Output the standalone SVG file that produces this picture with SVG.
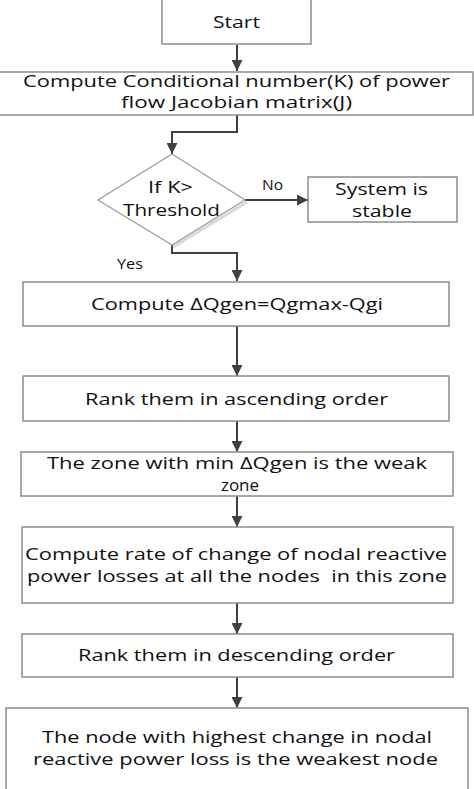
<svg xmlns="http://www.w3.org/2000/svg" width="474" height="789" viewBox="0 0 474 789">
<defs>
<marker id="ah" markerWidth="11" markerHeight="11" viewBox="0 0 10 10" refX="10" refY="5" orient="auto" markerUnits="userSpaceOnUse">
<path d="M0,0 L10,5 L0,10 Z" fill="#404040"/>
</marker>
<style>
.box{fill:#fff;stroke:#8c8c8c;stroke-width:1.5}
.dia{fill:#fff;stroke:#9a9a9a;stroke-width:1.2}
.shadow{fill:none;stroke:#d9d9d9;stroke-width:3}
.t{font-family:"Open Sans","Noto Sans",sans-serif;font-size:17px;fill:#111;text-anchor:middle}
.s{font-family:"Open Sans","Noto Sans",sans-serif;font-size:15px;fill:#111;text-anchor:middle}
.c{fill:none;stroke:#404040;stroke-width:2;marker-end:url(#ah)}
</style>
</defs>
<rect width="474" height="789" fill="#fff"/>
<g id="connectors">
<path class="c" d="M237,45 V71"/>
<path class="c" d="M237,115 V132 H172 V154"/>
<path class="c" d="M245,200 H308"/>
<path class="c" d="M172,245 V253 H237 V281"/>
<path class="c" d="M237,326 V376"/>
<path class="c" d="M237,421 V452"/>
<path class="c" d="M237,496 V527"/>
<path class="c" d="M237,603 V634"/>
<path class="c" d="M237,677 V708"/>
</g>
<g id="start">
<rect class="box" x="162" y="-2" width="149" height="46"/>
<text class="t" x="236.5" y="28" textLength="47" lengthAdjust="spacingAndGlyphs">Start</text>
</g>
<g id="compute-k">
<rect class="box" x="-1" y="72" width="474" height="43"/>
<text class="t" x="236.5" y="87" textLength="427" lengthAdjust="spacingAndGlyphs">Compute Conditional number(K) of power</text>
<text class="t" x="236.5" y="108" textLength="231" lengthAdjust="spacingAndGlyphs">flow Jacobian matrix(J)</text>
</g>
<g id="decision">
<path class="shadow" d="M247,202 L173,247"/>
<path class="dia" d="M172,154 L245,200 L172,245 L98,200 Z"/>
<text class="t" x="170.5" y="193" textLength="45" lengthAdjust="spacingAndGlyphs">If K&gt;</text>
<text class="t" x="171.5" y="216" textLength="97" lengthAdjust="spacingAndGlyphs">Threshold</text>
</g>
<text class="s" x="272.5" y="190" textLength="21" lengthAdjust="spacingAndGlyphs">No</text>
<text class="s" x="130" y="269" textLength="26" lengthAdjust="spacingAndGlyphs">Yes</text>
<g id="stable">
<rect class="box" x="308" y="177" width="149" height="45"/>
<text class="t" x="381.5" y="195" textLength="93" lengthAdjust="spacingAndGlyphs">System is</text>
<text class="t" x="382" y="217" textLength="60" lengthAdjust="spacingAndGlyphs">stable</text>
</g>
<g id="compute-dq">
<rect class="box" x="23" y="282" width="426" height="44"/>
<text class="t" x="237" y="310" textLength="292" lengthAdjust="spacingAndGlyphs">Compute ΔQgen=Qgmax-Qgi</text>
</g>
<g id="rank-asc">
<rect class="box" x="23" y="376" width="426" height="45"/>
<text class="t" x="236.5" y="405" textLength="303" lengthAdjust="spacingAndGlyphs">Rank them in ascending order</text>
</g>
<g id="weak-zone">
<rect class="box" x="21" y="452" width="432" height="44"/>
<text class="t" x="237" y="469" textLength="380" lengthAdjust="spacingAndGlyphs">The zone with min ΔQgen is the weak</text>
<text class="t" x="240" y="491">zone</text>
</g>
<g id="rate">
<rect class="box" x="22" y="527" width="431" height="76"/>
<text class="t" x="236" y="560" textLength="422" lengthAdjust="spacingAndGlyphs">Compute rate of change of nodal reactive</text>
<text class="t" x="237" y="582" textLength="420" lengthAdjust="spacingAndGlyphs">power losses at all the nodes&#160; in this zone</text>
</g>
<g id="rank-desc">
<rect class="box" x="22" y="634" width="431" height="43"/>
<text class="t" x="236.5" y="661" textLength="317" lengthAdjust="spacingAndGlyphs">Rank them in descending order</text>
</g>
<g id="weakest">
<rect class="box" x="6" y="708" width="462" height="90"/>
<text class="t" x="237" y="743" textLength="390" lengthAdjust="spacingAndGlyphs">The node with highest change in nodal</text>
<text class="t" x="235.5" y="765" textLength="405" lengthAdjust="spacingAndGlyphs">reactive power loss is the weakest node</text>
</g>
</svg>
